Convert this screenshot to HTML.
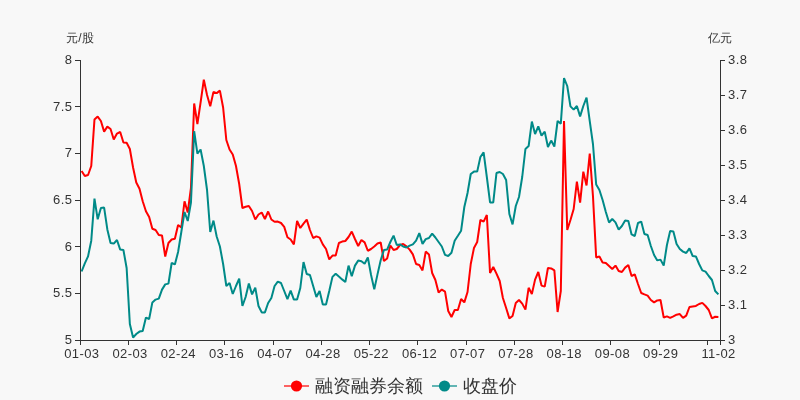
<!DOCTYPE html>
<html><head><meta charset="utf-8"><title>融资融券余额 收盘价</title>
<style>
html,body{margin:0;padding:0;background:#f8f8f8;}
body{width:800px;height:400px;overflow:hidden;font-family:"Liberation Sans", sans-serif;}
svg{display:block;will-change:transform;}
.lbl text{font-size:13px;font-family:"Liberation Sans", sans-serif;letter-spacing:0.4px;}
.cj{font-size:12px;font-family:"Liberation Sans", sans-serif;}
.lg{font-size:18px;font-family:"Liberation Sans", sans-serif;}
</style></head><body>
<svg width="800" height="400" viewBox="0 0 800 400">
<rect width="800" height="400" fill="#f8f8f8"/>
<path d="M80.5 60V340.5M720.5 60V340.5M80 340.5H720" stroke="#333" stroke-width="1" fill="none"/>
<path d="M75 60.5H80M75 106.5H80M75 153.5H80M75 200.5H80M75 246.5H80M75 293.5H80M75 340.5H80M720 60.5H725M720 95.5H725M720 130.5H725M720 165.5H725M720 200.5H725M720 235.5H725M720 270.5H725M720 305.5H725M720 340.5H725M80.5 341V345M128.5 341V345M176.5 341V345M224.5 341V345M273.5 341V345M321.5 341V345M369.5 341V345M417.5 341V345M466.5 341V345M514.5 341V345M562.5 341V345M610.5 341V345M659.5 341V345M707.5 341V345M720.5 341V345" stroke="#333" stroke-width="1" fill="none"/>
<g class="lbl" fill="#333"><text x="72.4" y="64.00" text-anchor="end">8</text><text x="72.4" y="111.00" text-anchor="end">7.5</text><text x="72.4" y="157.00" text-anchor="end">7</text><text x="72.4" y="204.00" text-anchor="end">6.5</text><text x="72.4" y="251.00" text-anchor="end">6</text><text x="72.4" y="297.00" text-anchor="end">5.5</text><text x="72.4" y="344.00" text-anchor="end">5</text><text x="728" y="64.00" text-anchor="start">3.8</text><text x="728" y="99.00" text-anchor="start">3.7</text><text x="728" y="134.00" text-anchor="start">3.6</text><text x="728" y="169.00" text-anchor="start">3.5</text><text x="728" y="204.00" text-anchor="start">3.4</text><text x="728" y="239.00" text-anchor="start">3.3</text><text x="728" y="274.00" text-anchor="start">3.2</text><text x="728" y="309.00" text-anchor="start">3.1</text><text x="728" y="344.00" text-anchor="start">3</text><text x="81.81" y="357.5" text-anchor="middle">01-03</text><text x="130.05" y="357.5" text-anchor="middle">02-03</text><text x="178.29" y="357.5" text-anchor="middle">02-24</text><text x="226.53" y="357.5" text-anchor="middle">03-16</text><text x="274.77" y="357.5" text-anchor="middle">04-07</text><text x="323.01" y="357.5" text-anchor="middle">04-28</text><text x="371.26" y="357.5" text-anchor="middle">05-22</text><text x="419.50" y="357.5" text-anchor="middle">06-12</text><text x="467.74" y="357.5" text-anchor="middle">07-07</text><text x="515.98" y="357.5" text-anchor="middle">07-28</text><text x="564.22" y="357.5" text-anchor="middle">08-18</text><text x="612.46" y="357.5" text-anchor="middle">09-08</text><text x="660.70" y="357.5" text-anchor="middle">09-29</text><text x="718.59" y="357.5" text-anchor="middle">11-02</text></g>
<text class="cj" x="80" y="42.3" text-anchor="middle" fill="#333">元/股</text>
<text class="cj" x="720" y="42.3" text-anchor="middle" fill="#333">亿元</text>
<polyline points="81.61,171.00 84.82,176.00 88.04,175.00 91.26,166.00 94.47,119.60 97.69,116.60 100.90,121.00 104.12,131.60 107.34,126.60 110.55,129.00 113.77,139.50 116.98,133.60 120.20,132.00 123.42,142.50 126.63,142.80 129.85,149.00 133.07,167.50 136.28,182.50 139.50,188.75 142.71,201.25 145.93,211.25 149.15,217.00 152.36,228.75 155.58,230.00 158.79,235.00 162.01,235.50 165.23,256.50 168.44,243.00 171.66,239.50 174.87,238.75 178.09,225.00 181.31,227.50 184.52,201.25 187.74,212.50 190.95,188.00 194.17,103.50 197.39,124.00 200.60,102.45 203.82,79.75 207.04,95.00 210.25,106.25 213.47,91.90 216.68,93.10 219.90,90.60 223.12,107.50 226.33,140.00 229.55,149.50 232.76,154.50 235.98,166.00 239.20,184.00 242.41,208.00 245.63,206.80 248.84,206.00 252.06,211.00 255.28,219.50 258.49,214.50 261.71,212.50 264.92,219.00 268.14,211.50 271.36,219.50 274.57,221.80 277.79,221.60 281.01,223.00 284.22,226.90 287.44,237.25 290.65,239.50 293.87,244.40 297.09,221.00 300.30,228.00 303.52,223.60 306.73,219.60 309.95,230.00 313.17,238.00 316.38,236.40 319.60,237.60 322.81,244.40 326.03,249.00 329.25,259.40 332.46,255.60 335.68,255.60 338.89,243.00 342.11,241.60 345.33,241.00 348.54,237.00 351.76,231.60 354.97,239.00 358.19,246.00 361.41,240.00 364.62,242.40 367.84,250.75 371.06,249.00 374.27,246.50 377.49,243.50 380.70,242.50 383.92,261.00 387.14,258.50 390.35,245.50 393.57,250.00 396.78,249.00 400.00,245.00 403.22,244.00 406.43,246.40 409.65,249.60 412.86,254.40 416.08,264.00 419.30,265.00 422.51,270.40 425.73,251.60 428.94,254.40 432.16,273.00 435.38,280.00 438.59,292.40 441.81,289.60 445.03,291.60 448.24,311.00 451.46,317.00 454.67,310.00 457.89,310.00 461.11,299.00 464.32,302.40 467.54,292.00 470.75,264.00 473.97,248.00 477.19,242.00 480.40,220.00 483.62,221.60 486.83,215.00 490.05,273.00 493.27,267.00 496.48,273.60 499.70,281.00 502.91,298.00 506.13,308.00 509.35,318.40 512.56,316.00 515.78,303.00 518.99,300.00 522.21,303.60 525.43,309.60 528.64,287.80 531.86,294.00 535.08,279.60 538.29,272.00 541.51,285.60 544.72,286.60 547.94,268.00 551.16,268.40 554.37,270.40 557.59,312.00 560.80,291.00 564.02,121.10 567.24,230.00 570.45,220.00 573.67,209.00 576.88,181.60 580.10,202.70 583.32,171.70 586.53,185.50 589.75,153.70 592.96,196.00 596.18,257.50 599.40,256.50 602.61,262.50 605.83,263.00 609.05,266.00 612.26,269.00 615.48,265.60 618.69,271.00 621.91,272.00 625.13,267.60 628.34,265.00 631.56,276.00 634.77,274.40 637.99,284.00 641.21,293.00 644.42,294.40 647.64,295.60 650.85,300.00 654.07,302.40 657.29,300.40 660.50,300.00 663.72,317.50 666.93,316.40 670.15,317.90 673.37,316.40 676.58,314.70 679.80,314.10 683.02,317.90 686.23,315.60 689.45,307.00 692.66,306.40 695.88,305.90 699.10,304.00 702.31,302.90 705.53,306.00 708.74,310.00 711.96,318.30 715.18,316.75 718.39,316.90" fill="none" stroke="#ff0000" stroke-width="2" stroke-linejoin="bevel" stroke-linecap="butt"/>
<polyline points="81.61,271.50 84.82,263.44 88.04,256.40 91.26,240.70 94.47,198.60 97.69,219.30 100.90,208.00 104.12,207.60 107.34,229.40 110.55,243.00 113.77,243.60 116.98,240.00 120.20,249.60 123.42,250.00 126.63,268.00 129.85,324.00 133.07,337.60 136.28,334.00 139.50,331.60 142.71,331.00 145.93,317.60 149.15,319.00 152.36,302.40 155.58,299.60 158.79,298.60 162.01,289.60 165.23,284.40 168.44,283.60 171.66,263.00 174.87,264.40 178.09,252.00 181.31,232.00 184.52,212.00 187.74,221.00 190.95,202.50 194.17,131.20 197.39,153.70 200.60,149.50 203.82,166.00 207.04,190.00 210.25,232.00 213.47,220.60 216.68,236.50 219.90,246.50 223.12,264.00 226.33,286.00 229.55,283.00 232.76,294.00 235.98,286.00 239.20,278.70 242.41,306.00 245.63,297.00 248.84,283.60 252.06,294.40 255.28,287.60 258.49,306.00 261.71,312.40 264.92,312.40 268.14,303.00 271.36,298.00 274.57,286.00 277.79,281.60 281.01,283.00 284.22,291.00 287.44,299.20 290.65,290.60 293.87,299.60 297.09,299.60 300.30,288.00 303.52,262.00 306.73,274.00 309.95,275.00 313.17,286.00 316.38,297.00 319.60,291.00 322.81,304.40 326.03,304.40 329.25,291.00 332.46,276.90 335.68,273.75 338.89,276.60 342.11,279.40 345.33,282.00 348.54,265.60 351.76,276.25 354.97,265.60 358.19,260.60 361.41,261.25 364.62,263.75 367.84,257.50 371.06,275.00 374.27,289.40 377.49,274.40 380.70,260.20 383.92,250.00 387.14,249.60 390.35,242.00 393.57,235.60 396.78,245.00 400.00,244.40 403.22,246.50 406.43,247.50 409.65,245.60 412.86,244.40 416.08,240.60 419.30,233.10 422.51,243.90 425.73,239.10 428.94,238.00 432.16,233.70 435.38,237.50 438.59,242.00 441.81,246.50 445.03,254.90 448.24,256.00 451.46,252.70 454.67,240.80 457.89,235.80 461.11,230.70 464.32,207.00 467.54,193.00 470.75,174.00 473.97,171.60 477.19,171.60 480.40,157.00 483.62,152.40 486.83,177.00 490.05,202.40 493.27,202.40 496.48,173.00 499.70,172.00 502.91,174.00 506.13,180.00 509.35,214.00 512.56,224.40 515.78,206.00 518.99,197.00 522.21,177.00 525.43,149.00 528.64,146.00 531.86,121.60 535.08,134.00 538.29,126.40 541.51,135.60 544.72,131.60 547.94,147.00 551.16,140.60 554.37,146.50 557.59,121.00 560.80,123.60 564.02,78.00 567.24,86.00 570.45,106.40 573.67,109.60 576.88,106.00 580.10,116.40 583.32,106.00 586.53,97.60 589.75,121.14 592.96,144.00 596.18,184.50 599.40,190.00 602.61,200.00 605.83,212.00 609.05,222.50 612.26,219.00 615.48,222.40 618.69,229.60 621.91,226.00 625.13,220.40 628.34,221.00 631.56,234.40 634.77,236.00 637.99,223.00 641.21,221.60 644.42,234.00 647.64,235.00 650.85,246.00 654.07,255.00 657.29,260.40 660.50,259.60 663.72,265.60 666.93,245.00 670.15,231.00 673.37,231.60 676.58,244.00 679.80,249.00 683.02,251.60 686.23,253.00 689.45,248.40 692.66,256.00 695.88,256.40 699.10,264.00 702.31,270.40 705.53,271.60 708.74,276.00 711.96,280.00 715.18,291.00 718.39,294.40" fill="none" stroke="#008a88" stroke-width="2" stroke-linejoin="bevel" stroke-linecap="butt"/>
<path d="M284 386H309" stroke="#ff0000" stroke-width="2" opacity="0.6"/><circle cx="296.5" cy="386" r="5.6" fill="#ff0000"/>
<text class="lg" x="314.8" y="392.3" fill="#333">融资融券余额</text>
<path d="M432 386H457" stroke="#008a88" stroke-width="2" opacity="0.6"/><circle cx="444.5" cy="386" r="5.6" fill="#008a88"/>
<text class="lg" x="462.8" y="392.3" fill="#333">收盘价</text>
</svg>
</body></html>
